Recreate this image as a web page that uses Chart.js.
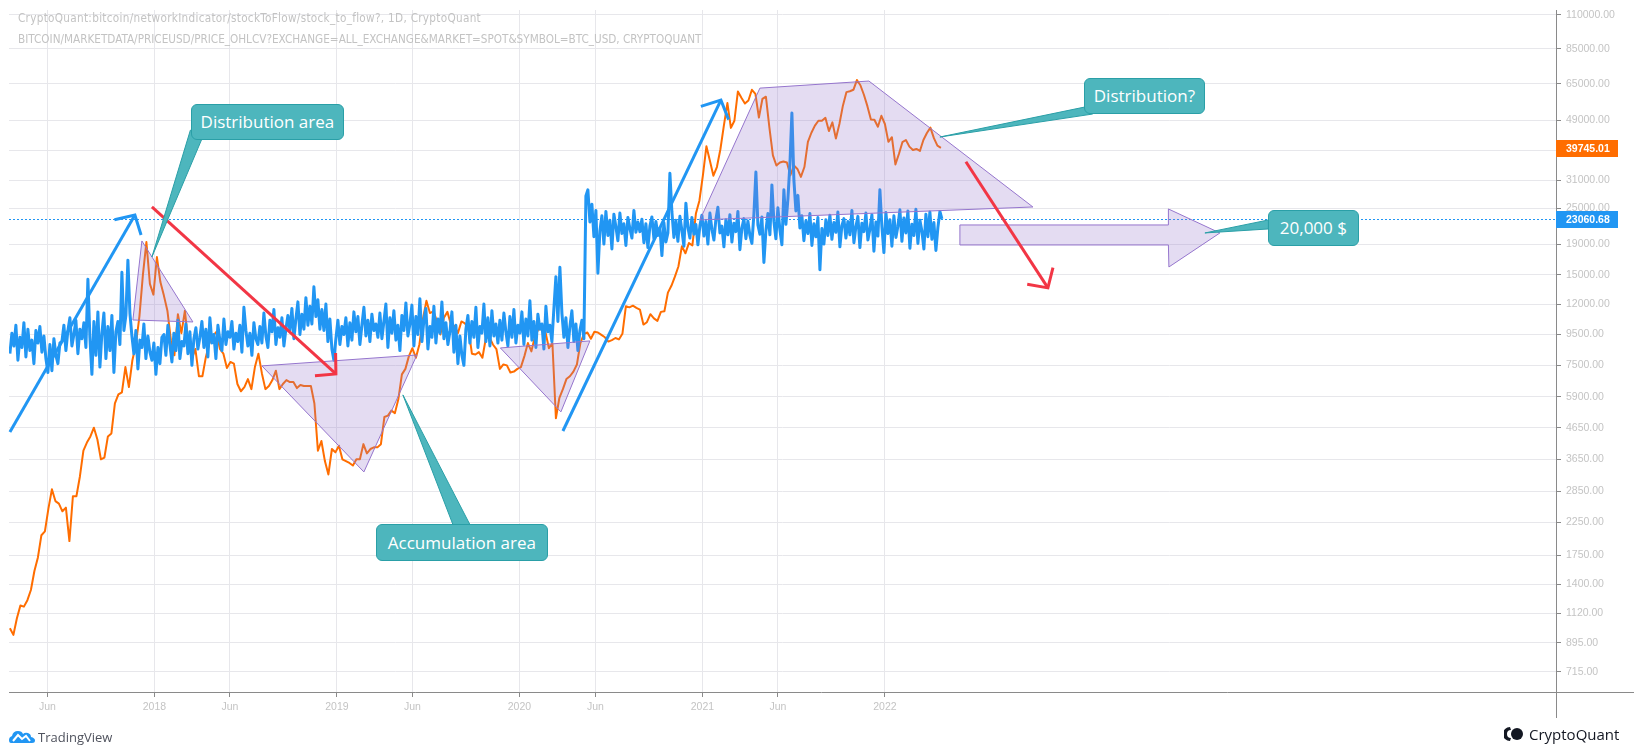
<!DOCTYPE html>
<html>
<head>
<meta charset="utf-8">
<title>BTC stock to flow</title>
<script src="https://cdn.jsdelivr.net/npm/chart.js@4.4.1/dist/chart.umd.min.js"></script>
<style>
  html, body { margin: 0; padding: 0; background: #fff; overflow: hidden; }
  #stage { position: relative; width: 1634px; height: 754px; }
  #chart { position: absolute; left: 0; top: 0; }
  .src { position: absolute; left: 18px; font-family: 'DejaVu Sans Condensed', 'DejaVu Sans', sans-serif; font-size: 12px;
         color: #c3c3c3; white-space: nowrap; }
  .callout { position: absolute; box-sizing: border-box; background: #4db6bd; border: 1px solid #2a9fa7; border-radius: 6px;
             color: #fff; font: 17px 'Open Sans', sans-serif; text-align: center; white-space: nowrap; }
  .brand { position: absolute; display: flex; align-items: center; white-space: nowrap; font-family: 'Open Sans', sans-serif; }
</style>
</head>
<body>
<div id="stage">
  <canvas id="chart" width="1634" height="754"></canvas>
  <div class="src" id="src1" style="top:11px">CryptoQuant:bitcoin/networkIndicator/stockToFlow/stock_to_flow?, 1D, CryptoQuant</div>
  <div class="src" id="src2" style="top:32px">BITCOIN/MARKETDATA/PRICEUSD/PRICE_OHLCV?EXCHANGE=ALL_EXCHANGE&amp;MARKET=SPOT&amp;SYMBOL=BTC_USD, CRYPTOQUANT</div>
  <div id="callouts"></div>
  <div class="brand" style="left:9px;top:728px;font-size:13px;color:#50535e">
    <svg width="26" height="14" viewBox="0 0 26 14" style="margin-right:3px">
      <path d="M2 13 Q0 13 0 10 Q0 7 3 6 Q4 1 9 1 Q13 1 14 4 Q16 2 19 3 Q22 4 22 7 Q26 8 26 10.5 Q26 13 23 13 Z" fill="#2196f3"/>
      <path d="M4 11 L9 5 L13 9 L17 6 L21 11" fill="none" stroke="#fff" stroke-width="2"/>
    </svg>
    <span>TradingView</span>
  </div>
  <div class="brand" style="left:1504px;top:724px;font-size:15px;color:#131722">
    <svg width="20" height="16" viewBox="0 0 20 16" style="margin-right:5px">
      <path d="M6 1 A7 7 0 0 0 6 15 L7 12 A4 4 0 0 1 7 4 Z" fill="#131722"/>
      <circle cx="13" cy="8" r="6" fill="#131722"/>
    </svg>
    <span>CryptoQuant</span>
  </div>
</div>
<script>
// x axis ticks
const xTickDates = ['2017-06-01', '2018-01-01', '2018-06-01', '2019-01-01', '2019-06-01',
                    '2020-01-01', '2020-06-01', '2021-01-01', '2021-06-01', '2022-01-01'];
const xTickLabels = ['Jun', '2018', 'Jun', '2019', 'Jun', '2020', 'Jun', '2021', 'Jun', '2022'];
// y axis ticks (log)
const yTickValues = [715, 895, 1120, 1400, 1750, 2250, 2850, 3650, 4650, 5900, 7500, 9500, 12000,
                     15000, 19000, 25000, 31000, 39000, 49000, 65000, 85000, 110000];

// BTC price, one value a week
const priceStart = '2017-03-18';
const priceStepDays = 7;
const btcPrice = [
  1000, 950, 1080, 1190, 1180, 1240, 1340, 1550, 1720, 2040, 2100, 2500, 2900, 2650, 2600, 2450, 2520, 1950, 2750, 2750,
  3200, 3900, 4150, 4350, 4650, 4250, 3650, 3700, 4350, 4450, 5600, 6000, 6100, 7400, 6350, 7800, 8800, 10900, 15000, 19300,
  14000, 12900,
  17200, 14200, 12800, 11400, 9100, 8100, 11100, 9600, 11400, 8800, 7900, 8500, 6900, 6900, 8000, 8900, 9400, 9700, 8500, 8200,
  7350, 7700, 7600, 6500, 6150, 6350, 6750, 6250, 7400, 8200, 7050, 6250, 6400, 6700, 7200, 6250, 6500, 6700, 6600, 6600,
  6300, 6450, 6400, 6400, 6400, 5600, 3900, 4200, 3600, 3250, 3950, 3850,
  4050, 3650, 3600, 3550, 3480, 3650, 3650, 4100, 3820, 3950, 4000, 4000, 4100, 5050, 5100, 5300, 5200, 5800, 7000, 7300,
  8050, 8550, 7950, 8800, 10700, 12300, 11200, 11350, 10550, 9500, 10800, 11300, 10250, 10150, 9600, 10500, 10350, 9950, 8200, 8150,
  8300, 7950, 9250, 9300, 8800, 8500, 7300, 7550, 7500, 7100, 7150, 7300,
  7400, 8050, 8900, 8350, 9350, 9900, 9900, 9700, 8550, 8900, 5000, 5850, 6250, 6750, 6900, 7150, 7550, 8900, 9550, 9650,
  9200, 9700, 9650, 9470, 9300, 9000, 9100, 9250, 9150, 9550, 11800, 11700, 11850, 11650, 11500, 10250, 10440, 11100, 10750, 10550,
  11300, 11350, 13100, 13800, 14800, 16000, 18700, 17700, 19150, 18800, 24000, 26500,
  32200, 40200, 36000, 32100, 34300, 39300, 47200, 56000, 46300, 48900, 61200, 58300, 55800, 57100, 62000, 60100, 50100, 57800, 58800, 46400,
  37500, 34700, 35500, 35800, 35500, 32200, 34700, 33800, 31800, 34300, 41600, 44600, 47100, 48900, 48900, 50000, 45200, 48300, 42700, 47700,
  54900, 60900, 61300, 62000, 66800, 64200, 59700, 54700, 49400, 49300, 46700, 50800,
  47700, 41600, 43100, 35000, 37900, 41500, 42200, 40100, 39100, 39400, 38800, 42200, 44500, 46400, 42800, 40400, 39745.01
];

// stock to flow model, one value every 4 days
const s2fStart = '2017-03-18';
const s2fStepDays = 4;
const s2fModel = [
  8200, 9600, 8700, 10200, 7800, 9300, 8600, 10400, 8000, 9900,
  8400, 9100, 7600, 9800, 8900, 10100, 8300, 9400, 7900, 7100,
  8800, 7200, 9200, 8100, 7600, 8900, 9000, 10200, 8400, 9800,
  10800, 8700, 9500, 10600, 8200, 9900, 9200, 10400, 8600, 14500,
  9300, 7000, 10500, 8100, 11300, 7400, 9600, 11200, 7900, 10100,
  8400, 11000, 7100, 9700, 10500, 8800, 15300, 9800, 11000, 16800,
  11200, 9400, 8200, 9800, 7300, 9100, 8600, 10300, 7900, 9400,
  8300, 7800, 8900, 7000, 8600, 7600, 9300, 9500, 8100, 10200,
  8800, 7700, 9600, 8400, 10600, 7900, 9000, 8700, 10300, 8200,
  9700, 7500, 9200, 10000, 8500, 9300, 10500, 8600, 9900, 8000,
  10800, 8900, 9500, 7900, 10200, 9100, 8400, 10700, 8800, 9700,
  9300, 10500, 8500, 9600, 9000, 10200, 8300, 11700, 9800, 8700,
  9600, 8100, 10400, 9200, 8800, 10100, 8900, 11200, 9400, 8600,
  10600, 9700, 11500, 8800, 10000, 9300, 10800, 8700, 9900, 11000,
  9800, 11600, 9200, 10700, 12200, 9500, 11100, 9900, 12600, 10200,
  11800, 10300, 13700, 10900, 12400, 9900, 11500, 9800, 12000, 9000,
  10700, 8500, 7800, 9200, 10600, 8800, 10100, 9500, 10800, 8700,
  10400, 9100, 11300, 9700, 10900, 8800, 10200, 11700, 9400, 10600,
  9000, 11100, 9800, 10300, 9300, 11200, 9200, 10500, 12000, 8600,
  10800, 9600, 11400, 9100, 10200, 8400, 11000, 9800, 12100, 9400,
  10300, 11900, 8700, 10900, 9500, 12500, 9000, 10600, 11600, 8500,
  10100, 9300, 11800, 8900, 10700, 9600, 12200, 9200, 10400, 8800,
  9700, 11300, 8300, 10200, 7600, 9400, 8100, 7500, 9900, 11000,
  8900, 10500, 9300, 11700, 8600, 10100, 9600, 12000, 9000, 10800,
  8700, 11400, 9400, 10300, 8900, 10600, 9100, 11200, 9700, 8700,
  10900, 9300, 11500, 8900, 10200, 9600, 11300, 8800, 10700, 9400,
  12300, 9100, 10500, 8600, 11100, 9900, 10300, 8500, 11800, 9700,
  10200, 9000, 11600, 14800, 10500, 15900, 11200, 9300, 10800, 8600,
  10100, 11400, 9000, 10300, 8400, 9800, 10600, 9200, 27500, 28800,
  22500, 25800, 20100, 24600, 15200, 21000, 23600, 19000, 24400, 20300,
  22800, 18300, 23900, 21700, 19500, 24100, 20600, 22200, 18800, 23300,
  21400, 19900, 24600, 20800, 22500, 20900, 23000, 19200, 22200, 18500,
  21800, 23400, 19800, 22600, 20300, 21500, 17400, 22400, 19300, 20700,
  32700, 24300, 20000, 22800, 19400, 23500, 21100, 18700, 26000, 21600,
  19900, 23300, 20500, 22100, 18900, 21900, 23700, 20200, 22600, 19000,
  24100, 21300, 19600, 23000, 25200, 20700, 21800, 18600, 22900, 20400,
  23800, 19300, 22300, 20900, 24400, 18200, 21500, 23100, 19800, 22700,
  20300, 19100, 23900, 33000, 22000, 20500, 23400, 16500, 21000, 24000,
  20400, 29900, 22600, 19800, 25100, 21200, 18900, 28800, 22100, 26800,
  35000, 51900, 31000, 24500, 27600, 21500, 23600, 19500, 22700, 20600,
  24000, 18800, 22200, 20100, 23300, 15600, 21400, 19000, 22900, 20300,
  23700, 19700, 22400, 20800, 24300, 18600, 21900, 23100, 19900, 22600,
  20400, 24600, 19200, 21700, 23500, 18500, 22300, 20900, 24100, 19600,
  21300, 23800, 18000, 22500, 20200, 28800, 21700, 17800, 24200, 20600,
  22900, 18700, 23600, 20000, 21800, 24700, 19400, 23200, 20700, 24500,
  18400, 22100, 20300, 24800, 19100, 22800, 21000, 18300, 23900, 20100,
  24300, 19700, 22400, 18100, 21600, 24400, 23060.68
];

// drawings on the chart, as [date, price]
const zoneShapes = [
  [['2017-12-07', 19460], ['2017-11-19', 10620], ['2018-03-19', 10460]],
  [['2018-08-04', 7470], ['2019-06-10', 8120], ['2019-02-24', 3313]],
  [['2019-11-24', 8570], ['2020-05-21', 9045], ['2020-03-24', 5250]],
  [['2020-12-27', 22860], ['2021-04-26', 62800], ['2021-11-30', 66300], ['2022-10-24', 25250]],
  [['2022-05-31', 22000], ['2023-07-22', 22000], ['2023-07-22', 24870], ['2023-11-02', 20690],
   ['2023-07-23', 15940], ['2023-07-22', 18870], ['2022-05-31', 18870]]
];
const trendArrows = [
  { from: ['2017-03-18', 4500], to: ['2017-11-23', 23750], color: '#2196f3' },
  { from: ['2020-03-28', 4535], to: ['2021-02-07', 57300], color: '#2196f3' },
  { from: ['2017-12-27', 25250], to: ['2018-12-30', 7020], color: '#f23645' },
  { from: ['2022-06-12', 35700], to: ['2022-11-23', 13580], color: '#f23645' }
];
const callouts = [
  { text: 'Distribution area', at: ['2018-08-15', 48400], tip: ['2017-12-27', 17210], w: 153, h: 36, base: [[-77, 8], [-66, 18]] },
  { text: 'Accumulation area', at: ['2019-09-08', 1929], tip: ['2019-05-13', 5980], w: 172, h: 37, base: [[-9, -18], [8, -18]] },
  { text: 'Distribution?', at: ['2023-06-04', 59080], tip: ['2022-04-21', 43170], w: 121, h: 36, base: [[-60, 11], [-52, 18]] },
  { text: '20,000 $', at: ['2024-05-07', 21500], tip: ['2023-10-03', 20690], w: 91, h: 36, base: [[-45, -8], [-45, 1]] }
];

const dayZero = Date.UTC(2018, 0, 1);
function dayNum(s) {
  const [y, m, d] = s.split('-').map(Number);
  return (Date.UTC(y, m - 1, d) - dayZero) / 86400000;
}
function seriesPoints(start, step, values) {
  const d0 = dayNum(start);
  return values.map((v, i) => ({ x: d0 + i * step, y: v }));
}
function toPx(chart, p) {
  return [chart.scales.x.getPixelForValue(dayNum(p[0])), chart.scales.y.getPixelForValue(p[1])];
}

// the source lines: size the font so the long line spans ~684px like the screenshot,
// then space out the first line to its ~463px
(function fitSourceText() {
  const l1 = document.getElementById('src1');
  const l2 = document.getElementById('src2');
  const w = l2.getBoundingClientRect().width;
  if (w > 0) {
    const size = 12 * 684 / w;
    [l1, l2].forEach(s => { s.style.fontSize = size.toFixed(2) + 'px'; });
    const w1 = l1.getBoundingClientRect().width;
    const gap = (463 - w1) / l1.textContent.length;
    if (gap > 0) l1.style.letterSpacing = gap.toFixed(3) + 'px';
  }
})();

const axisColor = '#8a8a8a';
const labelColor = '#c4c4c4';
const gridColor = '#e7e7eb';
const labelFont = { family: 'Liberation Sans', size: 10.5 };

// callout boxes as html text
const calloutBox = document.getElementById('callouts');
const calloutDivs = callouts.map(c => {
  const el = document.createElement('div');
  el.className = 'callout';
  el.textContent = c.text;
  el.style.width = c.w + 'px';
  el.style.height = c.h + 'px';
  el.style.lineHeight = (c.h - 2) + 'px';
  calloutBox.appendChild(el);
  return el;
});

function drawArrow(ctx, a, b, color) {
  ctx.strokeStyle = color;
  ctx.lineWidth = 3;
  ctx.lineJoin = 'miter';
  ctx.beginPath();
  ctx.moveTo(a[0], a[1]);
  ctx.lineTo(b[0], b[1]);
  ctx.stroke();
  const ang = Math.atan2(b[1] - a[1], b[0] - a[0]);
  const len = 21, spread = 47 * Math.PI / 180;
  ctx.beginPath();
  ctx.moveTo(b[0] - len * Math.cos(ang - spread), b[1] - len * Math.sin(ang - spread));
  ctx.lineTo(b[0], b[1]);
  ctx.lineTo(b[0] - len * Math.cos(ang + spread), b[1] - len * Math.sin(ang + spread));
  ctx.stroke();
}

function priceTag(ctx, chart, value, color) {
  const y = chart.scales.y.getPixelForValue(value);
  const x = chart.chartArea.right;
  ctx.fillStyle = color;
  ctx.fillRect(x, Math.round(y) - 8, 62, 17);
  ctx.fillStyle = '#fff';
  ctx.font = 'bold 10.5px "Liberation Sans"';
  ctx.textBaseline = 'middle';
  ctx.textAlign = 'left';
  ctx.fillText(value.toFixed(2), x + 10, Math.round(y) + 1);
}

const drawings = {
  id: 'drawings',
  beforeDatasetsDraw(chart) {
    const ctx = chart.ctx, area = chart.chartArea;
    const y = Math.round(chart.scales.y.getPixelForValue(s2fModel[s2fModel.length - 1])) + 0.5;
    ctx.save();
    ctx.strokeStyle = '#2196f3';
    ctx.lineWidth = 1;
    ctx.setLineDash([2, 2]);
    ctx.beginPath();
    ctx.moveTo(area.left, y);
    ctx.lineTo(area.right, y);
    ctx.stroke();
    ctx.restore();
  },
  afterDatasetsDraw(chart) {
    const ctx = chart.ctx;
    ctx.save();
    // purple zones
    zoneShapes.forEach(shape => {
      ctx.beginPath();
      shape.forEach((p, i) => {
        const [x, y] = toPx(chart, p);
        if (i === 0) ctx.moveTo(x, y); else ctx.lineTo(x, y);
      });
      ctx.closePath();
      ctx.fillStyle = 'rgba(149, 117, 205, 0.25)';
      ctx.fill();
      ctx.strokeStyle = '#9575cd';
      ctx.lineWidth = 1;
      ctx.stroke();
    });
    // arrows
    trendArrows.forEach(a => drawArrow(ctx, toPx(chart, a.from), toPx(chart, a.to), a.color));
    // callout pointers
    callouts.forEach(c => {
      const [cx, cy] = toPx(chart, c.at);
      const [tx, ty] = toPx(chart, c.tip);
      ctx.beginPath();
      ctx.moveTo(cx + c.base[0][0], cy + c.base[0][1]);
      ctx.lineTo(tx, ty);
      ctx.lineTo(cx + c.base[1][0], cy + c.base[1][1]);
      ctx.closePath();
      ctx.fillStyle = '#4db6bd';
      ctx.fill();
      ctx.strokeStyle = '#2a9fa7';
      ctx.lineWidth = 1;
      ctx.stroke();
    });
    ctx.restore();
  },
  afterDraw(chart) {
    const ctx = chart.ctx, area = chart.chartArea;
    ctx.save();
    ctx.strokeStyle = axisColor;
    ctx.lineWidth = 1;
    ctx.beginPath();
    ctx.moveTo(area.left, area.bottom + 0.5);
    ctx.lineTo(chart.width, area.bottom + 0.5);
    ctx.moveTo(area.right + 0.5, area.top);
    ctx.lineTo(area.right + 0.5, area.bottom + 26);
    ctx.stroke();
    priceTag(ctx, chart, btcPrice[btcPrice.length - 1], '#ff6d00');
    priceTag(ctx, chart, s2fModel[s2fModel.length - 1], '#2196f3');
    ctx.restore();
    callouts.forEach((c, i) => {
      const [cx, cy] = toPx(chart, c.at);
      calloutDivs[i].style.left = (cx - c.w / 2) + 'px';
      calloutDivs[i].style.top = (cy - c.h / 2) + 'px';
    });
  }
};

new Chart(document.getElementById('chart'), {
  type: 'line',
  data: {
    datasets: [
      {
        label: 'stock_to_flow',
        data: seriesPoints(s2fStart, s2fStepDays, s2fModel),
        borderColor: '#2196f3',
        borderWidth: 3,
        pointRadius: 0,
        borderJoinStyle: 'round',
        tension: 0
      },
      {
        label: 'BTC_USD',
        data: seriesPoints(priceStart, priceStepDays, btcPrice),
        borderColor: '#ff6d00',
        borderWidth: 2,
        pointRadius: 0,
        borderJoinStyle: 'round',
        tension: 0
      }
    ]
  },
  options: {
    responsive: false,
    animation: false,
    devicePixelRatio: 1,
    events: [],
    layout: { padding: { left: 9, top: 10, right: 0, bottom: 0 } },
    plugins: { legend: { display: false }, tooltip: { enabled: false } },
    scales: {
      x: {
        type: 'linear',
        position: 'bottom',
        min: -290.8,
        max: 2803.2,
        border: { display: false },
        grid: { color: gridColor, tickColor: axisColor, tickLength: 5 },
        ticks: {
          autoSkip: false, maxRotation: 0, padding: 4,
          color: labelColor, font: labelFont,
          callback: (v, i) => xTickLabels[i]
        },
        afterBuildTicks: s => { s.ticks = xTickDates.map(d => ({ value: dayNum(d) })); },
        afterFit: s => { s.height = 62; s.paddingLeft = 0; s.paddingRight = 0; }
      },
      y: {
        type: 'logarithmic',
        position: 'right',
        min: 613.3,
        max: 114290,
        border: { display: false },
        grid: { color: gridColor, tickColor: axisColor, tickLength: 5 },
        ticks: {
          autoSkip: false, padding: 5,
          color: labelColor, font: labelFont,
          callback: v => Number(v).toFixed(2)
        },
        afterBuildTicks: s => { s.ticks = yTickValues.map(v => ({ value: v })); },
        afterFit: s => { s.width = 78; s.paddingTop = 0; s.paddingBottom = 0; }
      }
    }
  },
  plugins: [drawings]
});
</script>
</body>
</html>
